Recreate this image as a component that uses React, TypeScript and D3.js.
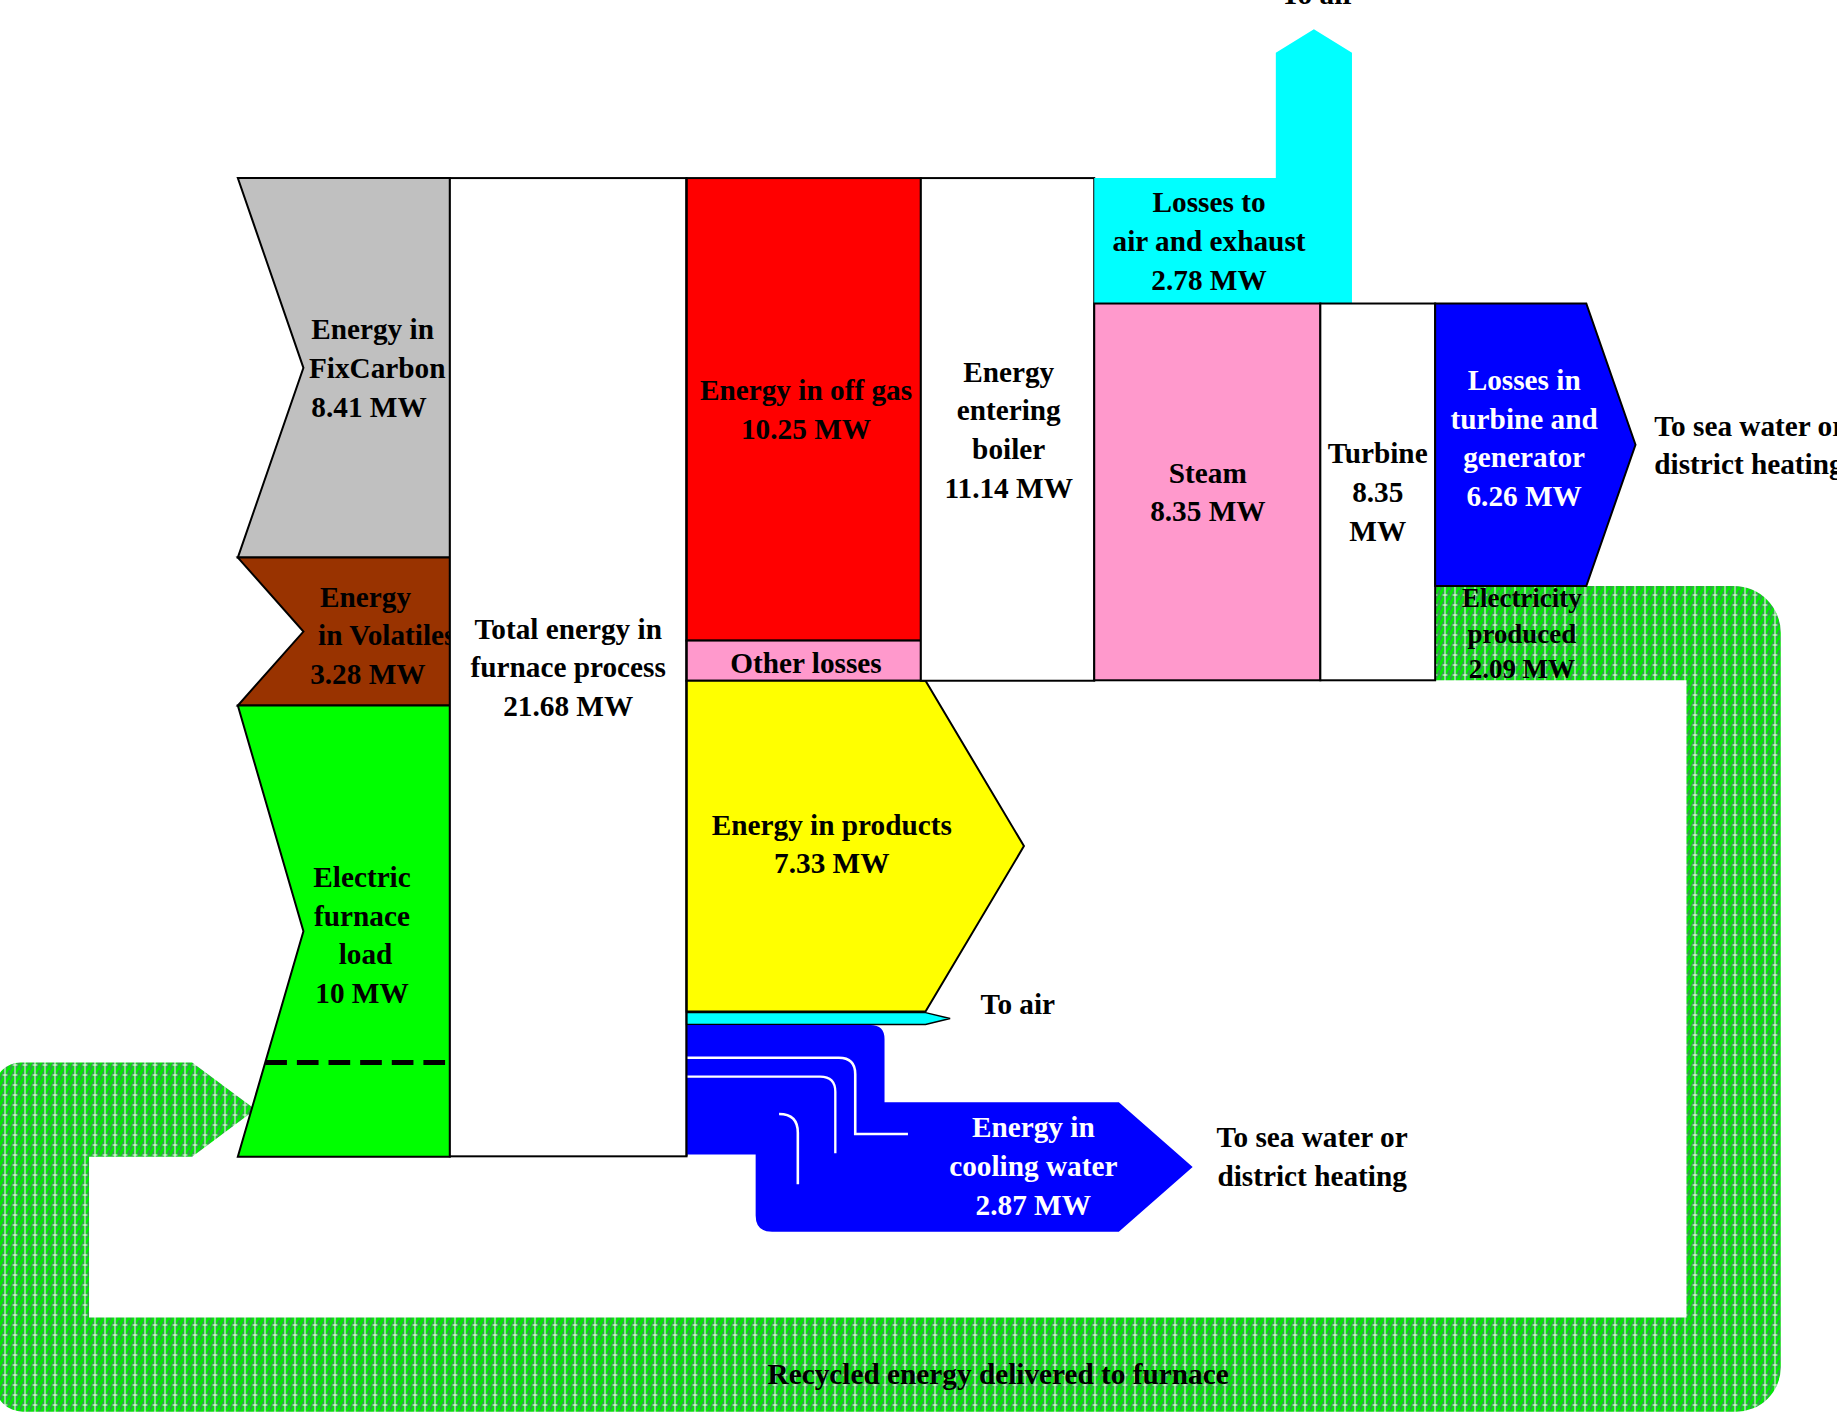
import React from "react";
import * as d3 from "d3";

// Energy flows, MW
const inputNames = ["Energy in FixCarbon", "Energy in Volatiles", "Electric furnace load"];
const inputValues = [8.41, 3.28, 10];
const totalValue = 21.68;
const furnaceOutNames = ["Energy in off gas", "Other losses", "Energy in products", "To air", "Energy in cooling water"];
const furnaceOutValues = [10.25, 0.89, 7.33, 0.3, 2.87];
const boilerValue = 11.14;
const boilerOutNames = ["Losses to air and exhaust", "Steam"];
const boilerOutValues = [2.78, 8.35];
const turbineValue = 8.35;
const turbineOutNames = ["Losses in turbine and generator", "Electricity produced"];
const turbineOutValues = [6.26, 2.09];
const recycledValue = 2.09;

const W = 1837;
const H = 1416;
const K = 1837 / 1568; // layout is done on a 1568 wide grid, then scaled up
const FONT = "'Liberation Serif', 'Times New Roman', Times, serif";
const STROKE = 1.7;

// column edges of the diagram
const X = {
  inL: 203, notch: 56, inR: 384, totR: 586, gasR: 786, prodR: 790, prodTip: 874,
  airTip: 811, boilR: 934, stackL: 1089, stackR: 1154, steamR: 1127, turbR: 1225,
  lossR: 1354, lossTip: 1396, loopR: 1520, loopInL: 76,
};
const TOP = 152;

// MW -> band height
const h = d3.scaleLinear().domain([0, totalValue]).range([0, 835]);

const stack = (vals: number[], y0: number) => {
  let acc = y0;
  return vals.map((v) => {
    const a = acc;
    acc += h(v);
    return [a, acc] as [number, number];
  });
};

type LabelProps = {
  lines: string[];
  x: number | number[];
  cy: number;
  size?: number;
  lh?: number;
  fill?: string;
  anchor?: string;
};

const Label = ({ lines, x, cy, size = 25, lh = 33, fill = "#000", anchor = "middle" }: LabelProps) => {
  const n = lines.length;
  return (
    <text fontFamily={FONT} fontWeight="bold" fontSize={size} fill={fill} textAnchor={anchor}>
      {lines.map((l, i) => (
        <tspan key={i} x={Array.isArray(x) ? x[i] : x} y={cy + (i - (n - 1) / 2) * lh} dy="0.35em">
          {l}
        </tspan>
      ))}
    </text>
  );
};

const chevron = (x0: number, x1: number, a: number, b: number, notch: number) =>
  `M${x0},${a}H${x1}V${b}H${x0}L${x0 + notch},${(a + b) / 2}Z`;

const arrow = (x0: number, x1: number, tip: number, a: number, b: number) =>
  `M${x0},${a}H${x1}L${tip},${(a + b) / 2}L${x1},${b}H${x0}Z`;

export default function App() {
  const ins = stack(inputValues, TOP);
  const outs = stack(furnaceOutValues, TOP);
  const totB = TOP + h(totalValue);
  const boilB = TOP + h(boilerValue);
  const bo = stack(boilerOutValues, TOP);
  const [steamT, steamB] = bo[1];
  const to = stack(turbineOutValues, steamT);
  const w = h(recycledValue);

  const mid = (r: [number, number]) => (r[0] + r[1]) / 2;

  // recycle loop
  const yT = to[1][0];
  const R = X.loopR;
  const B = 1205;
  const L = X.loopInL - w;
  const [gT, gB] = ins[2];
  const dashY = gB - w;
  const aT = dashY;
  const aB = gB;
  const headX = 164;
  const tipX = 218;
  const rTR = 40, rBR = 38, rBL = 24, rTL = 22;
  const loop = d3.path();
  loop.moveTo(X.lossR, yT);
  loop.lineTo(R - rTR, yT);
  loop.arcTo(R, yT, R, yT + rTR, rTR);
  loop.lineTo(R, B - rBR);
  loop.arcTo(R, B, R - rBR, B, rBR);
  loop.lineTo(L + rBL, B);
  loop.arcTo(L, B, L, B - rBL, rBL);
  loop.lineTo(L, aT + rTL);
  loop.arcTo(L, aT, L + rTL, aT, rTL);
  loop.lineTo(headX, aT);
  loop.lineTo(tipX, (aT + aB) / 2);
  loop.lineTo(headX, aB);
  loop.lineTo(L + w, aB);
  loop.lineTo(L + w, B - w);
  loop.lineTo(R - w, B - w);
  loop.lineTo(R - w, yT + w);
  loop.lineTo(X.lossR, yT + w);
  loop.closePath();

  // green edge x at the dashed line
  const gMid = (gT + gB) / 2;
  const dashX0 = X.inL + X.notch - X.notch * ((dashY - gMid) / (gB - gMid));

  // cooling water pipes
  const [bT, bB] = outs[4];
  const cT = bT + 66;
  const cB = cT + h(furnaceOutValues[4]);
  const cool = d3.path();
  cool.moveTo(X.totR, bT);
  cool.lineTo(743, bT);
  cool.quadraticCurveTo(755, bT, 755, bT + 12);
  cool.lineTo(755, cT);
  cool.lineTo(955, cT);
  cool.lineTo(1018, (cT + cB) / 2);
  cool.lineTo(955, cB);
  cool.lineTo(659, cB);
  cool.quadraticCurveTo(645, cB, 645, cB - 14);
  cool.lineTo(645, bB);
  cool.lineTo(X.totR, bB);
  cool.closePath();
  const l1 = bT + 28;
  const l2 = bT + 44;
  const gap1 = `M${X.totR},${l1}H716Q730,${l1} 730,${l1 + 14}V${cT + 27}H775`;
  const gap2 = `M${X.totR},${l2}H700Q713,${l2} 713,${l2 + 13}V${bB - 1}`;
  const gap3 = `M665,${cT + 10}Q681,${cT + 10} 681,${cT + 26}V${cT + 70}`;

  const [cyT, cyB] = bo[0];
  const stackPath = `M${X.boilR},${cyT}H${X.stackL}V45L${(X.stackL + X.stackR) / 2},25L${X.stackR},45V${cyB}H${X.boilR}Z`;

  return (
    <svg width={W} height={H} style={{ position: "absolute", left: 0, top: 0, background: "#fff" }}>
      <defs>
        <pattern id="hatch" patternUnits="userSpaceOnUse" width={10} height={10} patternTransform={`scale(${1 / K})`}>
          <rect width={10} height={10} fill="#00ee00" />
          <path d="M-2.5,5L0,0M0,10L5,0M5,10L10,0M10,5L12.5,0" stroke="#3d8f58" strokeWidth={2} />
          <line x1={5} y1={0} x2={5} y2={10} stroke="#ffffff" strokeWidth={1} />
          <line x1={2.5} y1={5} x2={7.5} y2={5} stroke="#ffffff" strokeWidth={1} />
        </pattern>
      </defs>
      <rect width={W} height={H} fill="#fff" />
      <g transform={`scale(${K})`}>
        {/* recycle loop and electricity */}
        <path d={loop.toString()} fill="url(#hatch)" />
        <rect x={X.turbR} y={to[1][0]} width={X.lossR - X.turbR} height={to[1][1] - to[1][0]} fill="url(#hatch)" />
        <Label lines={["Electricity", "produced", "2.09 MW"]} x={1299} cy={mid(to[1])} size={23} lh={30} />
        <Label lines={["Recycled energy delivered to furnace"]} x={852} cy={B - 32} />

        {/* inputs */}
        <path d={chevron(X.inL, X.inR, ins[0][0], ins[0][1], X.notch)} fill="#c0c0c0" stroke="#000" strokeWidth={STROKE} />
        <Label lines={["Energy in", "FixCarbon", "8.41 MW"]} x={[318, 322, 315]} cy={mid(ins[0])} />
        <path d={chevron(X.inL, X.inR, ins[1][0], ins[1][1], X.notch)} fill="#993300" stroke="#000" strokeWidth={STROKE} />
        <Label lines={["Energy", " in Volatiles", "3.28 MW"]} x={[312, 327, 314]} cy={mid(ins[1]) + 3} />
        <path d={chevron(X.inL, X.inR, ins[2][0], ins[2][1], X.notch)} fill="#00ff00" stroke="#000" strokeWidth={STROKE} />
        <Label lines={["Electric", "furnace", "load", "10 MW"]} x={[309, 309, 312, 309]} cy={mid(ins[2]) + 3} />
        <line x1={dashX0} x2={X.inR + 2} y1={dashY} y2={dashY} stroke="#000" strokeWidth={4.3} strokeDasharray="18.5 8.5" />

        {/* furnace */}
        <rect x={X.inR} y={TOP} width={X.totR - X.inR} height={totB - TOP} fill="#fff" stroke="#000" strokeWidth={STROKE} />
        <Label lines={["Total energy in", "furnace process", "21.68 MW"]} x={485} cy={(TOP + totB) / 2} />

        {/* furnace outputs */}
        <rect x={X.totR} y={outs[0][0]} width={X.gasR - X.totR} height={outs[0][1] - outs[0][0]} fill="#ff0000" stroke="#000" strokeWidth={STROKE} />
        <Label lines={["Energy in off gas", "10.25 MW"]} x={688} cy={mid(outs[0])} />
        <rect x={X.totR} y={outs[1][0]} width={X.gasR - X.totR} height={outs[1][1] - outs[1][0]} fill="#ff99cc" stroke="#000" strokeWidth={STROKE} />
        <Label lines={["Other losses"]} x={688} cy={mid(outs[1]) + 2} />
        <path d={arrow(X.totR, X.prodR, X.prodTip, outs[2][0], outs[2][1])} fill="#ffff00" stroke="#000" strokeWidth={STROKE} />
        <Label lines={["Energy in products", "7.33 MW"]} x={710} cy={mid(outs[2]) - 2} />
        <path d={arrow(X.totR, X.prodR, X.airTip, outs[3][0] + 1, outs[3][1] - 0.5)} fill="#00ffff" stroke="#000" strokeWidth={1.2} />
        <Label lines={["To air"]} x={837} cy={mid(outs[3]) - 12} anchor="start" />
        <path d={cool.toString()} fill="#0000ff" />
        <path d={gap1} fill="none" stroke="#fff" strokeWidth={2.2} />
        <path d={gap2} fill="none" stroke="#fff" strokeWidth={2} />
        <path d={gap3} fill="none" stroke="#fff" strokeWidth={2.2} />
        <Label lines={["Energy in", "cooling water", "2.87 MW"]} x={882} cy={(cT + cB) / 2 - 1} fill="#fff" />
        <Label lines={["To sea water or", "district heating"]} x={1120} cy={(cT + cB) / 2 - 9} />
        <line x1={X.totR} x2={X.totR} y1={TOP} y2={totB} stroke="#000" strokeWidth={STROKE} />

        {/* boiler */}
        <rect x={X.gasR} y={TOP} width={X.boilR - X.gasR} height={boilB - TOP} fill="#fff" stroke="#000" strokeWidth={STROKE} />
        <Label lines={["Energy", "entering", "boiler", "11.14 MW"]} x={861} cy={(TOP + boilB) / 2} />

        {/* boiler outputs */}
        <path d={stackPath} fill="#00ffff" />
        <Label lines={["Losses to", "air and exhaust", "2.78 MW"]} x={1032} cy={mid(bo[0])} />
        <text x={1125} y={3} fontFamily={FONT} fontWeight="bold" fontSize={25} textAnchor="middle">To air</text>
        <rect x={X.boilR} y={steamT} width={X.steamR - X.boilR} height={steamB - steamT} fill="#ff99cc" stroke="#000" strokeWidth={STROKE} />
        <Label lines={["Steam", "8.35 MW"]} x={1031} cy={(steamT + steamB) / 2} />

        {/* turbine */}
        <rect x={X.steamR} y={steamT} width={X.turbR - X.steamR} height={h(turbineValue)} fill="#fff" stroke="#000" strokeWidth={STROKE} />
        <Label lines={["Turbine", "8.35", "MW"]} x={1176} cy={steamT + h(turbineValue) / 2} />
        <path d={arrow(X.turbR, X.lossR, X.lossTip, to[0][0], to[0][1])} fill="#0000ff" stroke="#000" strokeWidth={STROKE} />
        <Label lines={["Losses in", "turbine and", "generator", "6.26 MW"]} x={1301} cy={mid(to[0]) - 6} fill="#fff" />
        <Label lines={["To sea water or", "district heating"]} x={1412} cy={mid(to[0])} anchor="start" />
      </g>
    </svg>
  );
}
